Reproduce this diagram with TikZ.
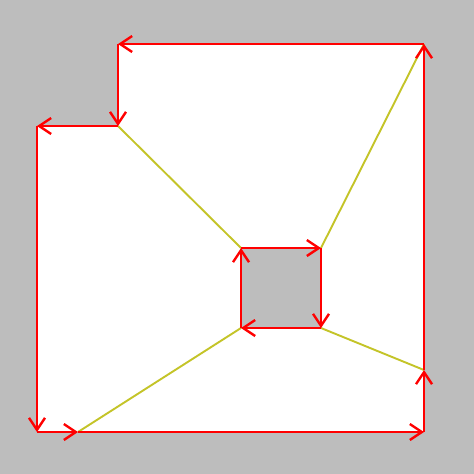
\documentclass[tikz,border=0pt]{standalone}
\usepackage{tikz}
\usetikzlibrary{arrows.meta}
\definecolor{bggray}{RGB}{189,189,189}
\definecolor{edgered}{RGB}{255,0,0}
\definecolor{diagyellow}{RGB}{196,196,40}
\tikzset{
  boundary/.style={edgered, line width=2.4pt, -{Straight Barb[length=12pt,width=16pt]}},
  diagonal/.style={diagyellow, line width=1.9pt}
}
\begin{document}
\begin{tikzpicture}[x=1pt,y=-1pt]
    % Background
    \fill[bggray] (0,0) rectangle (474,474);
    \useasboundingbox (0,0) rectangle (474,474);

    % Define the outer vertices
    \coordinate (A) at (424,44);
    \coordinate (B) at (118,44);
    \coordinate (C) at (118,126);
    \coordinate (D) at (37,126);
    \coordinate (E) at (37,432);
    \coordinate (F) at (78,432);
    \coordinate (G) at (424,432);
    \coordinate (H) at (424,370);

    % Define the hole vertices
    \coordinate (P) at (241,248);
    \coordinate (Q) at (321,248);
    \coordinate (R) at (321,328);
    \coordinate (S) at (241,328);

    % Fill the region and the hole
    \fill[white] (A) -- (B) -- (C) -- (D) -- (E) -- (F) -- (G) -- (H) -- cycle;
    \fill[bggray] (P) -- (Q) -- (R) -- (S) -- cycle;

    % Draw the diagonals
    \draw[diagonal] (C) -- (P);
    \draw[diagonal] (A) -- (Q);
    \draw[diagonal] (H) -- (R);
    \draw[diagonal] (F) -- (S);

    % Draw the outer boundary
    \draw[boundary] (A) -- (B);
    \draw[boundary] (B) -- (C);
    \draw[boundary] (C) -- (D);
    \draw[boundary] (D) -- (E);
    \draw[boundary] (E) -- (F);
    \draw[boundary] (F) -- (G);
    \draw[boundary] (G) -- (H);
    \draw[boundary] (H) -- (A);

    % Draw the hole boundary
    \draw[boundary] (P) -- (Q);
    \draw[boundary] (Q) -- (R);
    \draw[boundary] (R) -- (S);
    \draw[boundary] (S) -- (P);
\end{tikzpicture}
\end{document}
